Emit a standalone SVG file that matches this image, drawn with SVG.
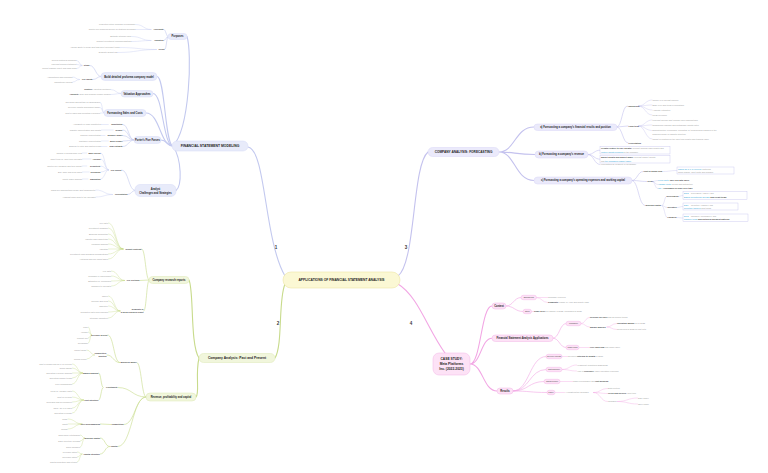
<svg xmlns="http://www.w3.org/2000/svg" width="768" height="473" viewBox="0 0 768 473">
<style>
text{font-family:"Liberation Sans",Arial,sans-serif}
.e{text-anchor:end}.m{text-anchor:middle}
.lf{font-size:2.1px;fill:#9a9a9a}
.sb{font-size:2.1px;fill:#444;font-weight:bold}
.nt{font-size:2.6px;fill:#222;font-weight:bold}
.pt{font-size:1.9px;fill:#444}
.bl{fill:#2a9fd6}
.dk{fill:#444;font-weight:bold}
.c1,.c2,.c3,.c4{fill:none;stroke-linecap:round}
.c1{stroke:#c3c9ef}.c2{stroke:#c8db8c}.c3{stroke:#c4c2ee}.c4{stroke:#f2a6e4}
.w1{stroke-width:1.1}.w2{stroke-width:0.6}.w3{stroke-width:0.4}
.n1{fill:#e8ebfa;stroke:#d6dbf6;stroke-width:0.5}
.n2{fill:#f1f6dc;stroke:#dde8b4;stroke-width:0.5}
.n3{fill:#ebeafb;stroke:#d9d7f6;stroke-width:0.5}
.n4{fill:#fde2f6;stroke:#f3b6e7;stroke-width:0.5}
.bx{fill:#fff;stroke:#c4c2ee;stroke-width:0.4}
.num{font-size:4.5px;fill:#333;font-weight:bold}
</style>

<g id="connectors">
<!-- main -->
<path class="c1 w1" d="M248 147C266 150 264 240 285 276"/>
<path class="c2 w1" d="M285 284C278 300 283 345 275 358"/>
<path class="c3 w1" d="M398 276C416 262 412 165 428 152"/>
<path class="c4 w1" d="M398 284C418 296 428 330 445 353"/>
<!-- branch 1 -->
<path class="c1 w1" d="M173 146C190 128 192 52 187 36.5"/>
<path class="c1 w1" d="M173 146C165 146 165 76.5 157 76.5"/>
<path class="c1 w1" d="M173 146C163 146 163 93.5 153 93.5"/>
<path class="c1 w1" d="M173 146C160 146 160 113 146 113"/>
<path class="c1 w1" d="M173 146C167 146 167 140 161 140"/>
<path class="c1 w1" d="M173 146C182 160 182 186 176 190.5"/>
<path class="c1 w2" d="M168 36.5C166 36.5 166 29.5 164 29.5M168 36.5C166 36.5 166 40.5 164 40.5M168 36.5C166.5 36.5 166.5 49.5 165 49.5"/>
<path class="c1 w3" d="M151 29.5C143.5 29.5 143.5 24.5 136 24.5M151 29.5L136 29.5M151 40.5C141.5 40.5 141.5 36.5 132 36.5M151 40.5C141.5 40.5 141.5 41.5 132 41.5M156.5 49.5C138 49.5 138 47.5 120 47.5M156.5 49.5C137 49.5 137 52.5 118 52.5"/>
<path class="c1 w2" d="M101 76.5C95.5 76.5 95.5 65.5 90 65.5M101 76.5C97 76.5 97 79.5 93 79.5"/>
<path class="c1 w3" d="M82 65.5C79.5 65.5 79.5 60.5 77 60.5M82 65.5C79.5 65.5 79.5 64.5 77 64.5M82 65.5C79.5 65.5 79.5 68.5 77 68.5M79.5 79.5C76 79.5 76 77 73 77M79.5 79.5C76 79.5 76 82 73 82"/>
<path class="c1 w3" d="M121 93.5C116 93.5 116 89.5 111 89.5M121 93.5C116 93.5 116 94.5 111 94.5"/>
<path class="c1 w3" d="M104 113C102 113 102.5 102.5 100.5 102.5M104 113C102 113 102.5 107.5 100.5 107.5M104 113L100.5 113"/>
<path class="c1 w2" d="M134 140C128.5 140 128.5 124.5 123 124.5M134 140C128.5 140 128.5 130 123 130M134 140C128.5 140 128.5 135.5 123 135.5M134 140C128.5 140 128.5 141 123 141M134 140C128.5 140 128.5 146.5 123 146.5"/>
<path class="c1 w3" d="M108.3 124.5L101.5 124.5M113.2 130L101.5 130M105 135.5L101.5 135.5M108.3 141L101.5 141M107 146.5L101.5 146.5"/>
<path class="c1 w2" d="M135 190.5C128.5 190.5 128.5 170 122 170M135 190.5C131.5 190.5 131.5 194.5 128 194.5"/>
<path class="c1 w3" d="M108.5 170C104.75 170 104.75 153 101 153M108.5 170C104.75 170 104.75 159 101 159M108.5 170C104.75 170 104.75 166 101 166M108.5 170C104.75 170 104.75 172 101 172M108.5 170C104.75 170 104.75 179 101 179"/>
<path class="c1 w3" d="M86.8 153L82.5 153M91 159L82.5 159M86.8 166L82.5 166M89.2 172L82.5 172M88 179L82.5 179"/>
<path class="c1 w3" d="M112.5 194.5C104.25 194.5 104.25 190 96 190M112.5 194.5C104.25 194.5 104.25 197 96 197"/>
<!-- branch 2 -->
<path class="c2 w1" d="M199 358C190 345 194 290 189 280"/>
<path class="c2 w1" d="M199 358C195 375 200 393 196 397"/>
<path class="c2 w2" d="M149 280C145.5 280 145.5 249 142 249M149 280L140 280.5M149 280C146.5 280 146.5 311 144 311"/>
<path class="c2 w3" d="M123 249C115.75 249 115.75 223 108.5 223M123 249C115.75 249 115.75 228 108.5 228M123 249C115.75 249 115.75 234 108.5 234M123 249C115.75 249 115.75 239 108.5 239M123 249C115.75 249 115.75 244 108.5 244M123 249L108.5 249M123 249C115.75 249 115.75 254 108.5 254M123 249C115.75 249 115.75 259 108.5 259"/>
<path class="c2 w3" d="M124.5 280.5C118 280.5 118 271 111.5 271M124.5 280.5C118 280.5 118 276 111.5 276M124.5 280.5C118 280.5 118 281 111.5 281M124.5 280.5C118 280.5 118 286 111.5 286"/>
<path class="c2 w3" d="M120 311C114.25 311 114.25 296 108.5 296M120 311C114.25 311 114.25 301 108.5 301M120 311C114.25 311 114.25 306 108.5 306M120 311C114.25 311 114.25 312 108.5 312M120 311C114.25 311 114.25 318 108.5 318"/>
<path class="c2 w2" d="M146 397C141.5 397 141.5 362.5 137 362.5M146 397C132 397 132 387.5 118 387.5M146 397C135 397 135 424.5 124 424.5M146 397C132 397 132 446.5 118 446.5"/>
<path class="c2 w2" d="M119.5 362.5C113.75 362.5 113.75 335 108 335M119.5 362.5C113.25 362.5 113.25 355 107 355"/>
<path class="c2 w3" d="M91.5 335C90 335 90 327 88.5 327M91.5 335C90 335 90 332 88.5 332M91.5 335C90 335 90 338 88.5 338M91.5 335C90 335 90 343 88.5 343M94.5 355C90.75 355 90.75 350 87 350M94.5 355C90.75 355 90.75 359 87 359"/>
<path class="c2 w2" d="M103 387.5C101 387.5 101 373 99 373M103 387.5C101 387.5 101 400 99 400"/>
<path class="c2 w3" d="M82.5 373C77.5 373 77.5 364 72.5 364M82.5 373C77.5 373 77.5 368 72.5 368M82.5 373L72.5 373M82.5 373C77.5 373 77.5 378 72.5 378M82.5 373C77.5 373 77.5 384 72.5 384"/>
<path class="c2 w3" d="M83.5 400C78 400 78 391 72.5 391M83.5 400C78 400 78 397 72.5 397M83.5 400C78 400 78 402 72.5 402M83.5 400C78 400 78 408 72.5 408M83.5 400C78 400 78 413 72.5 413"/>
<path class="c2 w2" d="M111 424.5L100.5 424"/>
<path class="c2 w3" d="M82 424C75 424 75 419 68 419M82 424L68 424M82 424C75 424 75 429 68 429"/>
<path class="c2 w2" d="M109.5 446.5C105 446.5 105 438 100.5 438M109.5 446.5C105 446.5 105 454 100.5 454"/>
<path class="c2 w3" d="M84.5 438C82.5 438 82.5 435 80.5 435M84.5 438C82.5 438 82.5 441 80.5 441M84.5 438C82.5 438 82.5 447 80.5 447M82 454C79.75 454 79.75 452 77.5 452M82 454C79.75 454 79.75 457 77.5 457M82 454C79.75 454 79.75 462 77.5 462"/>
<!-- branch 3 -->
<path class="c3 w1" d="M499 152C515 152 515 127 534 127M499 152C515 152 515 154.5 535 154.5M499 152C515 152 515 180.5 534 180.5"/>
<path class="c3 w2" d="M617 127C622 127 622 106 627 106M617 127L628 126M617 127C622.5 127 622.5 143 628 143"/>
<path class="c3 w3" d="M638.5 106C645.25 106 645.25 100 652 100M638.5 106C645.25 106 645.25 105 652 105M638.5 106C645.25 106 645.25 110 652 110M638.5 106C645.25 106 645.25 115 652 115"/>
<path class="c3 w3" d="M638.5 126C645.25 126 645.25 120 652 120M638.5 126C645.25 126 645.25 125 652 125M638.5 126C645.25 126 645.25 130.5 652 130.5M638.5 126C645.25 126 645.25 139 652 139"/>
<path class="c3 w2" d="M588 154.5C594 154.5 594 150.2 600 150.2M588 154.5C594 154.5 594 159.2 600 159.2M588 154.5C594 154.5 594 164.5 600 164.5"/>
<path class="c3 w2" d="M632 180.5C637.5 180.5 637.5 171.5 643 171.5M632 180.5C639.5 180.5 639.5 181.5 647 181.5M632 180.5C638.5 180.5 638.5 205.5 645 205.5"/>
<path class="c3 w3" d="M663.5 171.5C670 171.5 670 170.5 677 170.5M652.5 181.5C655 181.5 655 180.5 657.5 180.5M652.5 181.5C655 181.5 655 184.5 657.5 184.5M652.5 181.5C655 181.5 655 188.5 657.5 188.5"/>
<path class="c3 w3" d="M662 205.5C664.5 205.5 664.5 196.5 666 196.5M662 205.5C664.5 205.5 664.5 207.5 667 207.5M662 205.5C664.5 205.5 664.5 217.5 667 217.5M678.5 196.5C680.5 196.5 680.5 195.5 683 195.5M677.5 207.5C680 207.5 680 206.5 683 206.5M676.5 217.5C680 217.5 680 218 683 218"/>
<!-- branch 4 -->
<path class="c4 w1" d="M470 364C481 364 481 306 492 306M470 364C481 364 481 338.2 492 338.2M470 364C483 364 483 391 497 391"/>
<path class="c4 w2" d="M506 306C513.5 306 513.5 297.5 521 297.5M506 306C514.5 306 514.5 311.5 523 311.5"/>
<path class="c4 w3" d="M536.5 297.5L547.5 297.5M536.5 297.5C542 297.5 542 302.5 547.5 302.5M531.5 311.5L533.5 311.5"/>
<path class="c4 w2" d="M553 338.2C559.5 338.2 559.5 323.5 566 323.5M553 338.2C559.5 338.2 559.5 347.5 566 347.5"/>
<path class="c4 w3" d="M581 323.5C585.25 323.5 585.25 317.5 589.5 317.5M581 323.5C585.25 323.5 585.25 327 589.5 327M607 327C611.75 327 611.75 323.5 616.5 323.5M607 327C611.75 327 611.75 329.5 616.5 329.5M579 347.5L589.5 347.5"/>
<path class="c4 w2" d="M513 391C529.5 391 529.5 356.5 546 356.5M513 391C529.5 391 529.5 369.5 546 369.5M513 391C528.5 391 528.5 381.5 544 381.5M513 391C530 391 530 392.5 547 392.5"/>
<path class="c4 w3" d="M562 356.5L567.5 356.5M562 369.5C569.5 369.5 569.5 365 576.5 365M562 369.5C569.5 369.5 569.5 371 576.5 371M560 381.5L572.5 381.5M555 392.5L564.5 392.5"/>
<path class="c4 w3" d="M593.5 392.5C600.5 392.5 600.5 388.5 607.5 388.5M593.5 392.5C600.5 392.5 600.5 393.5 607.5 393.5M593.5 392.5C600.5 392.5 600.5 401.5 607.5 401.5M617.5 401.5C627.5 401.5 627.5 398 637.5 398M617.5 401.5C627.5 401.5 627.5 404 637.5 404"/>
</g>

<g id="central">
<rect x="283" y="272" width="117" height="16" rx="8" fill="#fbf8d4" stroke="#eee6a6" stroke-width="0.6"/>
<text x="341.5" y="281.3" class="m" font-size="3.3" font-weight="bold" fill="#222">APPLICATIONS OF FINANCIAL STATEMENT ANALYSIS</text>
</g>
<g id="numbers">
<text x="276" y="249" class="num m">1</text>
<text x="278" y="325" class="num m">2</text>
<text x="406" y="249" class="num m">3</text>
<text x="411" y="325" class="num m">4</text>
</g>

<!-- Branch 1 -->
<g id="fsm">
<rect class="n1" x="172" y="141" width="76" height="10" rx="5"/>
<text x="210" y="147.3" class="m" font-size="3.4" font-weight="bold" fill="#222">FINANCIAL STATEMENT MODELING</text>
</g>
<g id="purposes">
<rect class="n1" x="168" y="33.5" width="19" height="6" rx="3"/>
<text x="177.5" y="37.4" class="m nt" font-size="2.5">Purposes</text>
<text x="163.5" y="30.3" class="e sb">Forecasts</text>
<text x="135.5" y="25.3" class="e lf">Projecting future company performance</text>
<text x="135.5" y="30.3" class="e lf">Identify key business drivers for strategic decisions</text>
<text x="163.5" y="41.3" class="e sb">Valuation</text>
<text x="131.5" y="37.3" class="e lf">Estimate intrinsic value</text>
<text x="131.5" y="42.3" class="e lf">Support investment recommendations</text>
<text x="164.5" y="50.3" class="e sb">Credit</text>
<text x="119.5" y="48.3" class="e lf">Assess ability to repay debt and meet covenant terms</text>
<text x="117.5" y="53.3" class="e lf">Evaluate default risk</text>
</g>
<g id="build-model">
<rect class="n1" x="101" y="72.5" width="56" height="8" rx="4"/>
<text x="129" y="77.5" class="m nt">Build detailed proforma company model</text>
<text x="89.5" y="66.3" class="e sb">Steps</text>
<text x="76.5" y="61.3" class="e lf">Review historical financials</text>
<text x="76.5" y="65.3" class="e lf">Forecast income statement</text>
<text x="76.5" y="69.3" class="e lf">Project balance sheet and cash flows</text>
<text x="92.5" y="80.3" class="e sb">Key inputs</text>
<text x="72.5" y="77.8" class="e lf">Assumptions and scenarios</text>
<text x="72.5" y="82.8" class="e lf">Consistency checks</text>
</g>
<g id="valuation">
<rect class="n1" x="121" y="90.5" width="32" height="6.5" rx="3.25"/>
<text x="137" y="94.7" class="m nt">Valuation Approaches</text>
<text x="110.5" y="90.3" class="e lf"><tspan class="dk">Relative:</tspan> valuation multiples</text>
<text x="110.5" y="95.3" class="e lf"><tspan class="dk">Absolute:</tspan> DCF and residual income models</text>
</g>
<g id="forecasting-sales">
<rect class="n1" x="104" y="109.5" width="42" height="7" rx="3.5"/>
<text x="125" y="114" class="m nt">Forecasting Sales and Costs</text>
<text x="100" y="103.3" class="e lf">Top-down and bottom-up approaches</text>
<text x="100" y="108.3" class="e lf">Revenue growth and market share</text>
<text x="100" y="113.8" class="e lf">Cost of sales and operating expenses</text>
</g>
<g id="porter">
<rect class="n1" x="134" y="136.5" width="27" height="7" rx="3.5"/>
<text x="147.5" y="141" class="m nt">Porter's Five Forces</text>
<text x="122.5" y="125.3" class="e sb">Substitutes</text>
<text x="122.5" y="130.8" class="e sb">Rivalry</text>
<text x="122.5" y="136.3" class="e sb">Supplier power</text>
<text x="122.5" y="141.8" class="e sb">Buyer power</text>
<text x="122.5" y="147.3" class="e sb">New entrants</text>
<text x="101" y="125.3" class="e lf">Availability of close substitutes</text>
<text x="101" y="130.8" class="e lf">Industry concentration and growth</text>
<text x="101" y="136.3" class="e lf">Supplier concentration</text>
<text x="101" y="141.8" class="e lf">Customer concentration</text>
<text x="101" y="147.3" class="e lf">Barriers to entry and capital needs</text>
</g>
<g id="analyst">
<rect class="n1" x="135" y="184.5" width="41" height="12" rx="5"/>
<text x="155.5" y="189.5" class="m nt">Analyst</text>
<text x="155.5" y="194.3" class="m nt">Challenges and Strategies</text>
<text x="121.5" y="170.8" class="e sb">Key issues</text>
<text x="100.5" y="153.8" class="e sb">Base period</text>
<text x="100.5" y="159.8" class="e sb">Horizon</text>
<text x="100.5" y="166.8" class="e sb">Sensitivity</text>
<text x="100.5" y="172.8" class="e sb">Scenarios</text>
<text x="100.5" y="179.8" class="e sb">Simulation</text>
<text x="82" y="153.8" class="e lf">Choose a normal base year</text>
<text x="82" y="159.8" class="e lf">Short-term vs. long-term forecasts</text>
<text x="82" y="166.8" class="e lf">Identify key variables and their impact</text>
<text x="82" y="172.8" class="e lf">Bull, base and bear cases</text>
<text x="82" y="179.8" class="e lf">Monte Carlo analysis</text>
<text x="127.5" y="195.3" class="e sb">Presentation</text>
<text x="95.5" y="190.8" class="e lf">Show key assumptions clearly and transparently</text>
<text x="95.5" y="197.8" class="e lf">Highlight main risks to the forecasts</text>
</g>

<!-- Branch 2 -->
<g id="company-analysis">
<rect class="n2" x="199" y="353.5" width="76" height="9" rx="4.5"/>
<text x="237" y="359.3" class="m" font-size="3.3" font-weight="bold" fill="#222">Company Analysis: Past and Present</text>
</g>
<g id="research-reports">
<rect class="n2" x="149" y="276.5" width="40" height="7" rx="3.5"/>
<text x="169" y="281" class="m nt" font-size="2.5">Company research reports</text>
<text x="141.5" y="249.8" class="e sb">Report contents</text>
<text x="108" y="223.8" class="e lf">Key facts</text>
<text x="108" y="228.8" class="e lf">Investment summary</text>
<text x="108" y="234.8" class="e lf">Business description</text>
<text x="108" y="239.8" class="e lf">Industry and competition</text>
<text x="108" y="244.8" class="e lf">Financial analysis</text>
<text x="108" y="249.8" class="e lf">Valuation</text>
<text x="108" y="254.8" class="e lf">Investment risks and ESG considerations</text>
<text x="108" y="259.8" class="e lf">Historical and pro forma tables</text>
<text x="139.5" y="281.3" class="e sb">Key sections</text>
<text x="111" y="271.8" class="e lf">Key data</text>
<text x="111" y="276.8" class="e lf">Summary of conclusions</text>
<text x="111" y="281.8" class="e lf">Estimates vs. consensus</text>
<text x="111" y="286.8" class="e lf">Changes to forecasts</text>
<text x="143.5" y="310" class="e sb" font-size="1.9">Elements of</text>
<text x="143.5" y="313.3" class="e sb" font-size="1.9">a good research report</text>
<text x="108" y="296.8" class="e lf">Timely</text>
<text x="108" y="301.8" class="e lf">Concise and clear</text>
<text x="108" y="306.8" class="e lf">Objective</text>
<text x="108" y="312.8" class="e lf">Separates facts from opinions</text>
<text x="108" y="318.8" class="e lf">Internally consistent</text>
</g>
<g id="revenue-profitability">
<rect class="n2" x="146" y="393" width="50" height="8" rx="4"/>
<text x="171" y="398" class="m nt" font-size="2.6">Revenue, profitability and capital</text>
<text x="136.5" y="363.3" class="e sb">Business model</text>
<text x="107.5" y="335.7" class="e sb" font-size="1.9">Revenue drivers</text>
<text x="88" y="327.8" class="e lf">Price</text>
<text x="88" y="332.8" class="e lf">Volume</text>
<text x="88" y="338.8" class="e lf">Product mix</text>
<text x="88" y="343.8" class="e lf">Geography</text>
<text x="106.5" y="353.8" class="e sb" font-size="1.9">Competitive</text>
<text x="106.5" y="357.1" class="e sb" font-size="1.9">position</text>
<text x="86.5" y="350.8" class="e lf">Market share</text>
<text x="86.5" y="359.8" class="e lf">Pricing power</text>
<text x="117.5" y="388.2" class="e sb" font-size="2">Profitability</text>
<text x="98.5" y="373.7" class="e sb" font-size="1.9">Margin analysis</text>
<text x="72" y="364.8" class="e lf">Cost of goods sold as % of revenue</text>
<text x="72" y="368.8" class="e lf">Gross margin</text>
<text x="72" y="373.8" class="e lf">Operating expense analysis</text>
<text x="72" y="378.8" class="e lf">Operating margin trends</text>
<text x="72" y="384.8" class="e lf">Peer comparisons</text>
<text x="98.5" y="400.7" class="e sb" font-size="1.9">Cost structure</text>
<text x="72" y="391.8" class="e lf">Fixed vs. variable costs</text>
<text x="72" y="397.8" class="e lf">Cost of revenue</text>
<text x="72" y="402.8" class="e lf">Research and development</text>
<text x="72" y="408.8" class="e lf">SG&amp;A as % of sales</text>
<text x="72" y="413.8" class="e lf">Operating leverage</text>
<text x="123.5" y="425.2" class="e sb" font-size="2">Competition</text>
<text x="100" y="424.7" class="e sb" font-size="1.9">Peer benchmarking</text>
<text x="67.5" y="419.8" class="e lf">Scale</text>
<text x="67.5" y="424.8" class="e lf">Costs</text>
<text x="67.5" y="429.8" class="e lf">Pricing</text>
<text x="117.5" y="447.2" class="e sb" font-size="2">Capital</text>
<text x="100" y="438.7" class="e sb" font-size="1.9">Working capital</text>
<text x="80" y="435.8" class="e lf">Days sales outstanding</text>
<text x="80" y="441.8" class="e lf">Days inventory on hand</text>
<text x="80" y="447.8" class="e lf">Days payables</text>
<text x="100" y="454.7" class="e sb" font-size="1.9">Capital structure</text>
<text x="77" y="452.8" class="e lf">Leverage ratios</text>
<text x="77" y="457.8" class="e lf">Coverage ratios</text>
<text x="77" y="462.8" class="e lf">Capital allocation and returns</text>
</g>

<!-- Branch 3 -->
<g id="forecasting">
<rect class="n3" x="428" y="147.5" width="71" height="9" rx="4.5"/>
<text x="463.5" y="153.2" class="m" font-size="3.2" font-weight="bold" fill="#222">COMPANY ANALYSIS: FORECASTING</text>
</g>
<g id="forecast-a">
<rect class="n3" x="534" y="124" width="83" height="6.5" rx="3.25"/>
<text x="575.5" y="128.1" class="m nt" font-size="2.4">a) Forecasting a company's financial results and position</text>
<text x="627.5" y="106.7" class="sb" font-size="2">Approaches</text>
<text x="652.5" y="100.8" class="lf">Choice of a forecast horizon</text>
<text x="652.5" y="105.8" class="lf">Base level and trend of operations</text>
<text x="652.5" y="110.8" class="lf">Analysts' estimates</text>
<text x="652.5" y="115.8" class="lf">Mean reversion</text>
<text x="628.5" y="126.7" class="sb" font-size="2">Long-term</text>
<text x="652.5" y="120.8" class="lf">Forecast horizon and terminal value assumptions</text>
<text x="652.5" y="125.8" class="lf">Normalized earnings and sustainable growth rates</text>
<text x="652.5" y="131.3" class="lf">Discontinuities: recessions, regulatory or technological changes in the</text>
<text x="652.5" y="134.8" class="lf">business model or industry structure</text>
<text x="652.5" y="139.8" class="lf">Impact of inflation on the long-term growth and terminal value</text>
<text x="628.5" y="143.7" class="sb" font-size="2">Presentation</text>
</g>
<g id="forecast-b">
<rect class="n3" x="535" y="151" width="53" height="7" rx="3.5"/>
<text x="561.5" y="155.4" class="m nt" font-size="2.4">b) Forecasting a company's revenue</text>
<rect class="bx" x="600" y="146.5" width="70" height="7.5"/>
<text x="601" y="149.3" class="lf" font-size="1.9"><tspan class="dk">Growth relative to GDP growth:</tspan> forecast nominal GDP growth and</text>
<text x="601" y="152.7" class="lf" font-size="1.9"><tspan class="bl">relative growth premium</tspan> of the company</text>
<rect class="bx" x="600" y="155.5" width="70" height="7.5"/>
<text x="601" y="158.3" class="lf" font-size="1.9"><tspan class="dk">Market growth and market share:</tspan> forecast market growth</text>
<text x="601" y="161.7" class="lf" font-size="1.9">and <tspan class="bl">the company's market share</tspan></text>
<text x="601" y="165.3" class="lf" font-size="1.9">Forecasting by segment or geography</text>
</g>
<g id="forecast-c">
<rect class="n3" x="534" y="177" width="98" height="7" rx="3.5"/>
<text x="583" y="181.4" class="m nt" font-size="2.4">c) Forecasting a company's operating expenses and working capital</text>
<text x="643.5" y="172.2" class="sb" font-size="2">Cost of goods sold</text>
<rect class="bx" x="677" y="167" width="57" height="7"/>
<text x="678" y="169.7" class="lf" font-size="1.9"><tspan class="bl">COGS as a % of revenue:</tspan> historical</text>
<text x="678" y="172.9" class="lf" font-size="1.9">gross margin, input costs and hedging</text>
<text x="647.5" y="182.2" class="sb" font-size="2">SG&amp;A</text>
<text x="658" y="181.2" class="lf" font-size="1.9"><tspan class="bl">Fixed costs:</tspan> <tspan class="dk">vary less with sales</tspan></text>
<text x="658" y="185.2" class="lf" font-size="1.9"><tspan class="bl">Variable costs:</tspan> selling and distribution</text>
<text x="658" y="189.2" class="lf" font-size="1.9"><tspan class="bl">G&amp;A:</tspan> <tspan class="dk">economies of scale over time</tspan></text>
<text x="645.5" y="206.2" class="sb" font-size="2">Working capital</text>
<text x="666.5" y="197.2" class="sb" font-size="1.9">Receivables</text>
<rect class="bx" x="683" y="191.5" width="64" height="8"/>
<text x="684" y="194.3" class="lf" font-size="1.9"><tspan class="bl">DSO</tspan> = receivables / sales x 365</text>
<text x="684" y="197.8" class="lf" font-size="1.9"><tspan class="bl">Based on historical average</tspan> <tspan class="dk">and credit terms</tspan></text>
<text x="667.5" y="208.2" class="sb" font-size="1.9">Inventory</text>
<rect class="bx" x="683" y="203" width="55" height="7"/>
<text x="684" y="205.6" class="lf" font-size="1.9"><tspan class="bl">DOH</tspan> = inventory / COGS x 365</text>
<text x="684" y="208.8" class="lf" font-size="1.9"><tspan class="bl">Inventory turnover</tspan> and trends</text>
<text x="667.5" y="218.2" class="sb" font-size="1.9">Payables</text>
<rect class="bx" x="683" y="214" width="65" height="7.5"/>
<text x="684" y="216.7" class="lf" font-size="1.9"><tspan class="bl">DPO</tspan> = payables / purchases x 365</text>
<text x="684" y="220" class="lf" font-size="1.9"><tspan class="bl">Supplier terms</tspan> <tspan class="dk">and historical payment patterns</tspan></text>
</g>

<!-- Branch 4 -->
<g id="case-study">
<rect class="n4" x="433" y="353" width="37" height="22" rx="6"/>
<text x="451.5" y="359.5" class="m" font-size="3.3" font-weight="bold" fill="#222">CASE STUDY:</text>
<text x="451.5" y="364.8" class="m" font-size="3.3" font-weight="bold" fill="#222">Meta Platforms</text>
<text x="451.5" y="370.1" class="m" font-size="3.3" font-weight="bold" fill="#222">Inc. (2022-2023)</text>
</g>
<g id="context">
<rect class="n4" x="492" y="303" width="14" height="6" rx="3"/>
<text x="499" y="306.9" class="m nt" font-size="2.3">Context</text>
<rect class="n4" x="521" y="295.3" width="15.5" height="4.4" rx="2.2"/>
<text x="528.75" y="298.2" class="m pt">Background</text>
<text x="548" y="298.3" class="lf">Company overview</text>
<text x="548" y="303.3" class="lf"><tspan class="dk">Segments:</tspan> Family of Apps and Reality Labs</text>
<rect class="n4" x="523" y="309.3" width="8.5" height="4.4" rx="2.2"/>
<text x="527.25" y="312.2" class="m pt">Stock</text>
<text x="534" y="312.3" class="lf"><tspan class="dk">Share price</tspan> fell sharply in 2022, rebounded in 2023</text>
</g>
<g id="fsa-applications">
<rect class="n4" x="492" y="335" width="61" height="6.5" rx="3.25"/>
<text x="522.5" y="339.1" class="m nt" font-size="2.3">Financial Statement Analysis Applications</text>
<rect class="n4" x="566" y="321.3" width="15" height="4.4" rx="2.2"/>
<text x="573.5" y="324.2" class="m pt">Profitability</text>
<text x="590" y="318.3" class="lf"><tspan class="dk">Revenue per user</tspan> and ad pricing trends</text>
<text x="590" y="327.7" class="sb" font-size="2">Margin analysis</text>
<text x="617" y="324.3" class="lf"><tspan class="dk">Operating margin</tspan> fell in 2022</text>
<text x="617" y="330.3" class="lf">Recovered in 2023 on cost cuts</text>
<rect class="n4" x="566" y="345.3" width="13" height="4.4" rx="2.2"/>
<text x="572.5" y="348.2" class="m pt">Cash Flows</text>
<text x="590" y="348.3" class="lf"><tspan class="dk">Free cash flow</tspan> and rising capex</text>
</g>
<g id="results">
<rect class="n4" x="497" y="388" width="16" height="6" rx="3"/>
<text x="505" y="391.9" class="m nt" font-size="2.3">Results</text>
<rect class="n4" x="546" y="354.3" width="16" height="4.4" rx="2.2"/>
<text x="554" y="357.2" class="m pt">Revenue Growth</text>
<text x="568" y="357.3" class="lf">Revenue <tspan class="dk">returned to growth</tspan> in 2023</text>
<rect class="n4" x="546" y="367.3" width="16" height="4.4" rx="2.2"/>
<text x="554" y="370.2" class="m pt">Cost Structure</text>
<text x="577" y="365.8" class="lf">Headcount reductions 2022-2023</text>
<text x="577" y="371.8" class="lf">Year of <tspan class="dk">efficiency:</tspan> lower operating expenses</text>
<rect class="n4" x="544" y="379.3" width="16" height="4.4" rx="2.2"/>
<text x="552" y="382.2" class="m pt">Capital Return</text>
<text x="573" y="382.3" class="lf">Share repurchases and <tspan class="dk">first dividend</tspan></text>
<rect class="n4" x="547" y="390.3" width="8" height="4.4" rx="2.2"/>
<text x="551" y="393.2" class="m pt">Capex</text>
<text x="565" y="393.3" class="lf">AI infrastructure spending</text>
<text x="608" y="389.3" class="lf">Data centers</text>
<text x="608" y="394.3" class="lf"><tspan class="dk">GPUs and servers:</tspan> long-term</text>
<text x="608" y="402.3" class="lf">Guidance</text>
<text x="638" y="398.8" class="lf">2024 capex</text>
<text x="638" y="404.8" class="lf">Opex range</text>
</g>
</svg>
